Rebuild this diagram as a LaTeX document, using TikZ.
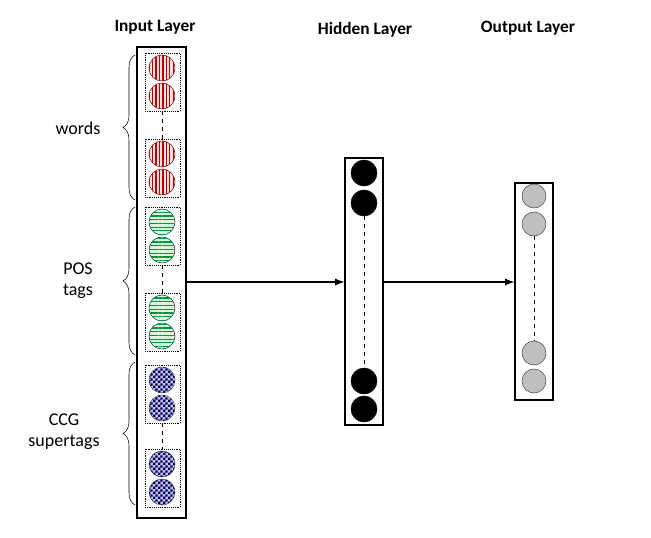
\documentclass[tikz,border=0pt]{standalone}
\usepackage{fontspec}
\setmainfont{Carlito}
\usetikzlibrary{patterns,patterns.meta,decorations.pathreplacing,arrows.meta}
\pgfdeclarepatternformonly{finecheck}{\pgfpointorigin}{\pgfqpoint{3.6pt}{3.6pt}}{\pgfqpoint{3.6pt}{3.6pt}}{%
  \pgfpathrectangle{\pgfpointorigin}{\pgfqpoint{1.8pt}{1.8pt}}%
  \pgfpathrectangle{\pgfqpoint{1.8pt}{1.8pt}}{\pgfqpoint{1.8pt}{1.8pt}}%
  \pgfusepath{fill}}
\begin{document}
\begin{tikzpicture}[x=0.75pt,y=-0.75pt,
  title/.style={font=\bfseries\fontsize{13}{15}\selectfont},
  lab/.style={font=\fontsize{13.5}{16}\selectfont,align=center},
  col/.style={draw=black,thick,fill=white},
  grp/.style={draw=black,densely dotted},
  rc/.style={circle,minimum size=26*0.75pt,inner sep=0pt,draw=black!60!red,fill=red!12,postaction={pattern={Lines[angle=90,distance=2.6pt,line width=0.9pt]},pattern color=red!75!black}},
  gc/.style={circle,minimum size=26*0.75pt,inner sep=0pt,draw=black!60!teal,fill=green!50!teal!15,postaction={pattern={Lines[angle=0,distance=2.8pt,line width=0.9pt]},pattern color=green!45!teal!80!black}},
  bc/.style={circle,minimum size=26*0.75pt,inner sep=0pt,draw=black!70,fill=blue!25,postaction={pattern=finecheck,pattern color=blue!25!black}},
  kc/.style={circle,minimum size=26*0.75pt,inner sep=0pt,draw=black,fill=black},
  yc/.style={circle,minimum size=24*0.75pt,inner sep=0pt,draw=black!70,fill=black!25},
  dsh/.style={dashed},
  arr/.style={-{Latex[length=7pt]},thick},
  brc/.style={decorate,decoration={brace,amplitude=9pt}}]
\useasboundingbox (0,0) rectangle (651,537);
\node[title] (t1) at (155,27) {Input Layer};
\node[title] (t2) at (365,30) {Hidden Layer};
\node[title] (t3) at (528,28) {Output Layer};
% input column
\node[col,minimum width=49*0.75pt,minimum height=471*0.75pt,inner sep=0pt] (in) at (161.5,282.5) {};
\foreach \n/\s/\a/\b/\c/\d in {r/rc/68/96/154/182, g/gc/222/250/308/336, b/bc/380/408/464/492}{
  \draw[grp] (145,\a-15) rectangle (180,\b+15);
  \draw[grp] (145,\c-15) rectangle (180,\d+15);
  \node[\s] (\n1) at (162,\a) {};
  \node[\s] (\n2) at (162,\b) {};
  \node[\s] (\n3) at (162,\c) {};
  \node[\s] (\n4) at (162,\d) {};
  \draw[dsh] (162,\b+15) -- (162,\c-15);
}
% hidden
\node[col,minimum width=38*0.75pt,minimum height=267*0.75pt,inner sep=0pt] (hid) at (364,291.5) {};
\node[kc] (h1) at (364,173) {};
\node[kc] (h2) at (364,203) {};
\node[kc] (h3) at (364,381) {};
\node[kc] (h4) at (364,409) {};
\draw[dsh] (h2) -- (h3);
% output
\node[col,minimum width=38*0.75pt,minimum height=217*0.75pt,inner sep=0pt] (out) at (534,291.5) {};
\node[yc] (o1) at (534,196) {};
\node[yc] (o2) at (534,224) {};
\node[yc] (o3) at (534,353) {};
\node[yc] (o4) at (534,381) {};
\draw[dsh] (o2) -- (o3);
% arrows
\draw[arr] (in.east |- 0,282) -- (hid.west |- 0,282);
\draw[arr] (hid.east |- 0,282) -- (out.west |- 0,282);
% braces
\draw[brc] (135,200) -- (135,55);
\draw[brc] (135,355) -- (135,207);
\draw[brc] (135,505) -- (135,362);
\node[lab] (l1) at (78,128) {words};
\node[lab] (l2) at (78,281) {POS\\tags};
\node[lab] (l3) at (64,432) {CCG\\supertags};
\end{tikzpicture}
\end{document}
